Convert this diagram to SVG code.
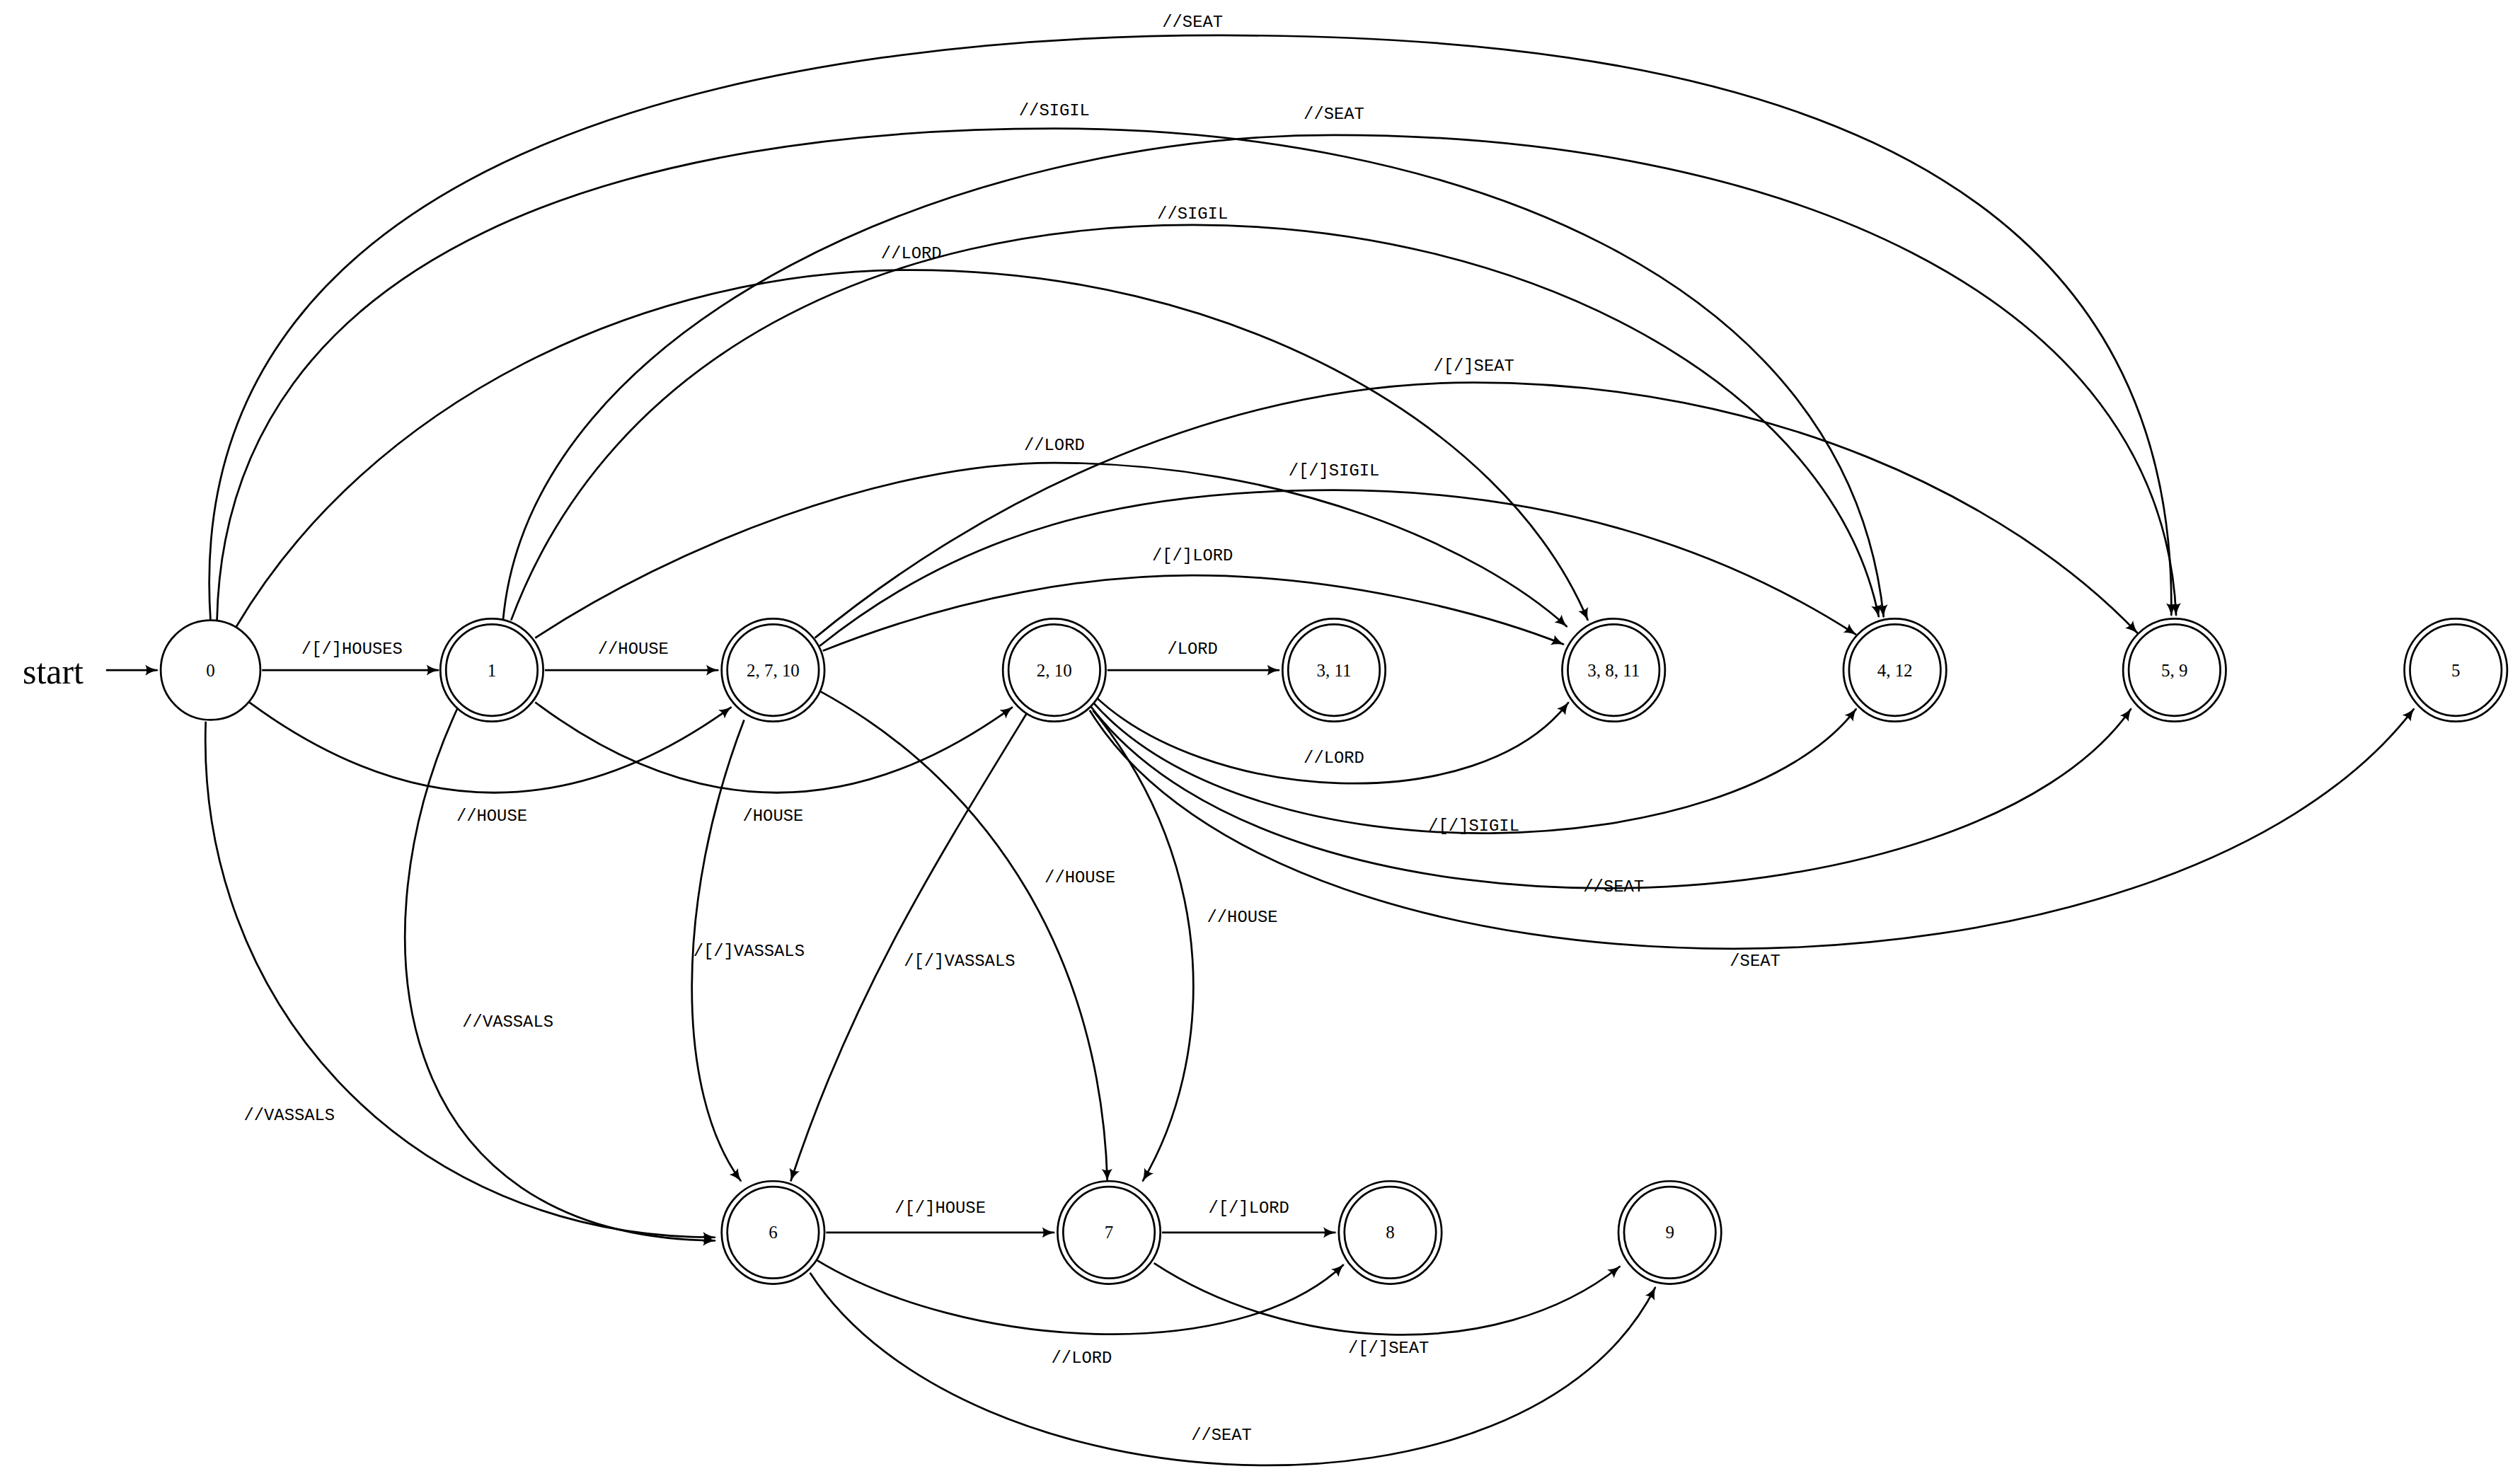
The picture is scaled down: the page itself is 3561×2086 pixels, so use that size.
<svg xmlns="http://www.w3.org/2000/svg" width="3561" height="2086" viewBox="0 0 3561 2086">
<style>
.n{fill:#fff;stroke:#000;stroke-width:1.2}
.nt{font-family:"Liberation Serif",serif;font-size:11px;text-anchor:middle;dominant-baseline:central}
.e{fill:none;stroke:#000;stroke-width:1.2;marker-end:url(#a)}
.l{font-family:"Liberation Mono",monospace;font-size:10.5px;text-anchor:middle;dominant-baseline:central}
</style>
<defs>
<marker id="a" viewBox="0 0 10 8" refX="9" refY="4" markerWidth="7" markerHeight="6" orient="auto" markerUnits="strokeWidth">
<path d="M0,0 Q4,3 10,4 Q4,5 0,8 Q2,4 0,0z" fill="#000"/>
</marker>
</defs>
<rect width="3561" height="2086" fill="#fff"/>
<g transform="scale(2.2711)">
<g id="connectors">
<path class="e" d="M66,417 L98,417"/>
<path class="e" d="M163,417 L273,417"/>
<path class="e" d="M339,417 L447,417"/>
<path class="e" d="M689,417 L796,417"/>
<path class="e" d="M514,767 L656,767"/>
<path class="e" d="M723,767 L831,767"/>
<path class="e" d="M155,437 Q306,548 455,440"/>
<path class="e" d="M333,437 Q481,548 630,440"/>
<path class="e" d="M128,449 C122,620 250,770 445,770"/>
<path class="e" d="M285,440 C220,580 240,770 445,772"/>
<path class="e" d="M463,448 C420,560 420,680 461,735"/>
<path class="e" d="M640,442 C580,540 530,620 492,735"/>
<path class="e" d="M510,430 C620,490 685,600 689,735"/>
<path class="e" d="M680,442 C760,540 755,660 711,735"/>
<path class="e" d="M680,432 C750,500 920,510 976,437"/>
<path class="e" d="M680,437 C780,550 1080,540 1155,441"/>
<path class="e" d="M679,440 C800,600 1230,580 1326,441"/>
<path class="e" d="M678,442 C800,640 1350,640 1502,441"/>
<path class="e" d="M508,784 C600,840 770,850 836,787"/>
<path class="e" d="M718,786 C800,840 930,850 1008,788"/>
<path class="e" d="M504,792 C600,940 950,960 1030,801"/>
<path class="e" d="M131,386 C110,80 500,22 760,22 C1050,22 1355,80 1351,383"/>
<path class="e" d="M135,386 C140,150 400,80 656,80 C900,80 1150,170 1172,384"/>
<path class="e" d="M313,386 C330,200 600,84 830,84 C1100,84 1345,180 1354,383"/>
<path class="e" d="M318,386 C380,220 550,140 742,140 C950,140 1140,240 1169,384"/>
<path class="e" d="M147,390 C230,250 400,168 567,168 C760,168 935,260 988,386"/>
<path class="e" d="M333,397 C420,340 550,288 656,288 C800,288 920,340 975,390"/>
<path class="e" d="M507,397 C600,320 750,238 917,238 C1100,238 1250,310 1330,394"/>
<path class="e" d="M510,402 C600,330 700,305 830,305 C960,305 1070,340 1155,395"/>
<path class="e" d="M512,405 C600,370 680,358 742,358 C830,358 920,380 973,401"/>
</g>
<g id="labels">
<text class="l" x="219" y="404">/[/]HOUSES</text>
<text class="l" x="394" y="404">//HOUSE</text>
<text class="l" x="742" y="404">/LORD</text>
<text class="l" x="585" y="752">/[/]HOUSE</text>
<text class="l" x="777" y="752">/[/]LORD</text>
<text class="l" x="306" y="508">//HOUSE</text>
<text class="l" x="481" y="508">/HOUSE</text>
<text class="l" x="180" y="694">//VASSALS</text>
<text class="l" x="316" y="636">//VASSALS</text>
<text class="l" x="466" y="592">/[/]VASSALS</text>
<text class="l" x="597" y="598">/[/]VASSALS</text>
<text class="l" x="672" y="546">//HOUSE</text>
<text class="l" x="773" y="571">//HOUSE</text>
<text class="l" x="830" y="472">//LORD</text>
<text class="l" x="917" y="514">/[/]SIGIL</text>
<text class="l" x="1004" y="552">//SEAT</text>
<text class="l" x="1092" y="598">/SEAT</text>
<text class="l" x="673" y="845">//LORD</text>
<text class="l" x="864" y="839">/[/]SEAT</text>
<text class="l" x="760" y="893">//SEAT</text>
<text class="l" x="742" y="14">//SEAT</text>
<text class="l" x="656" y="69">//SIGIL</text>
<text class="l" x="830" y="71">//SEAT</text>
<text class="l" x="742" y="133">//SIGIL</text>
<text class="l" x="567" y="158">//LORD</text>
<text class="l" x="656" y="277">//LORD</text>
<text class="l" x="917" y="228">/[/]SEAT</text>
<text class="l" x="830" y="293">/[/]SIGIL</text>
<text class="l" x="742" y="346">/[/]LORD</text>
</g>
<text x="33" y="418" font-family="Liberation Serif,serif" font-size="22" text-anchor="middle" dominant-baseline="central">start</text>
<g id="n0"><circle class="n" cx="131" cy="417" r="31"/><text class="nt" x="131" y="417">0</text></g>
<g id="n1"><circle class="n" cx="306" cy="417" r="32"/><circle class="n" cx="306" cy="417" r="28.5"/><text class="nt" x="306" y="417">1</text></g>
<g id="n2710"><circle class="n" cx="481" cy="417" r="32"/><circle class="n" cx="481" cy="417" r="28.5"/><text class="nt" x="481" y="417">2, 7, 10</text></g>
<g id="n210"><circle class="n" cx="656" cy="417" r="32"/><circle class="n" cx="656" cy="417" r="28.5"/><text class="nt" x="656" y="417">2, 10</text></g>
<g id="n311"><circle class="n" cx="830" cy="417" r="32"/><circle class="n" cx="830" cy="417" r="28.5"/><text class="nt" x="830" y="417">3, 11</text></g>
<g id="n3811"><circle class="n" cx="1004" cy="417" r="32"/><circle class="n" cx="1004" cy="417" r="28.5"/><text class="nt" x="1004" y="417">3, 8, 11</text></g>
<g id="n412"><circle class="n" cx="1179" cy="417" r="32"/><circle class="n" cx="1179" cy="417" r="28.5"/><text class="nt" x="1179" y="417">4, 12</text></g>
<g id="n59"><circle class="n" cx="1353" cy="417" r="32"/><circle class="n" cx="1353" cy="417" r="28.5"/><text class="nt" x="1353" y="417">5, 9</text></g>
<g id="n5"><circle class="n" cx="1528" cy="417" r="32"/><circle class="n" cx="1528" cy="417" r="28.5"/><text class="nt" x="1528" y="417">5</text></g>
<g id="n6"><circle class="n" cx="481" cy="767" r="32"/><circle class="n" cx="481" cy="767" r="28.5"/><text class="nt" x="481" y="767">6</text></g>
<g id="n7"><circle class="n" cx="690" cy="767" r="32"/><circle class="n" cx="690" cy="767" r="28.5"/><text class="nt" x="690" y="767">7</text></g>
<g id="n8"><circle class="n" cx="865" cy="767" r="32"/><circle class="n" cx="865" cy="767" r="28.5"/><text class="nt" x="865" y="767">8</text></g>
<g id="n9"><circle class="n" cx="1039" cy="767" r="32"/><circle class="n" cx="1039" cy="767" r="28.5"/><text class="nt" x="1039" y="767">9</text></g>
</g>
</svg>
